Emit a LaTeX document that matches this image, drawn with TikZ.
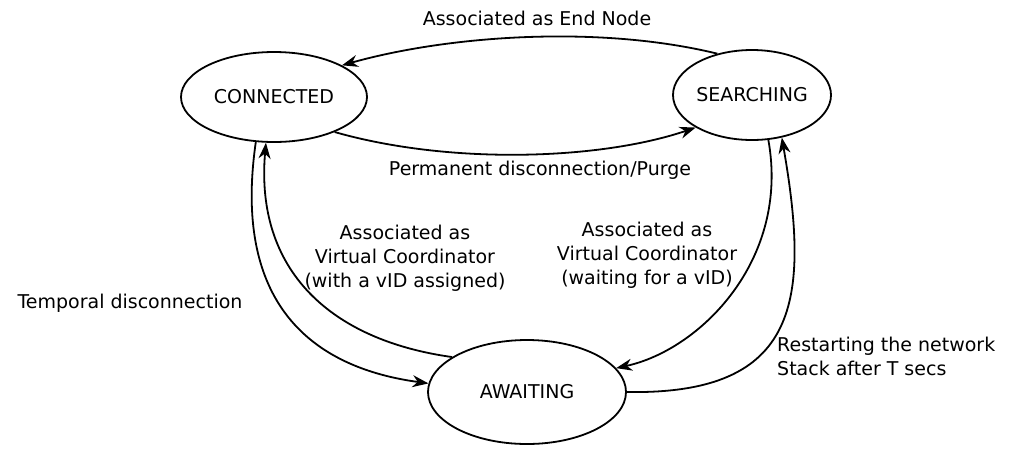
\documentclass[tikz,border=0pt]{standalone}
\usepackage{fontspec}
\setmainfont{DejaVu Sans}
\usetikzlibrary{arrows.meta,shapes.geometric}
\begin{document}
\begin{tikzpicture}[x=1pt,y=-1pt,
  state/.style={draw,ellipse,inner sep=0pt,line width=1.8pt,font=\fontsize{19}{24}\selectfont},
  lbl/.style={font=\fontsize{19}{24}\selectfont,align=center},
  tr/.style={-{Stealth[length=16pt,width=12pt]},line width=1.8pt}]
\useasboundingbox (0,0) rectangle (1024,459);
\node[state,minimum width=186,minimum height=90] (C) at (274,97) {CONNECTED};
\node[state,minimum width=158,minimum height=90] (S) at (752,95) {SEARCHING};
\node[state,minimum width=198,minimum height=104] (A) at (527,392) {AWAITING};
\draw[tr] (S.130) .. controls (600,25) and (450,35) .. (C.25);
\draw[tr] (C.-30) .. controls (450,165) and (600,160) .. (S.-150);
\draw[tr] (C.-112) .. controls (230,320) and (330,370) .. (A.175);
\draw[tr] (A.155) .. controls (330,340) and (255,270) .. (C.-100);
\draw[tr] (S.-70) .. controls (790,260) and (700,350) .. (A.15);
\draw[tr] (A.0) .. controls (800,395) and (810,300) .. (S.-55);
\node[lbl] (l1) at (537,18) {Associated as End Node};
\node[lbl] (l2) at (540,170) {Permanent disconnection/Purge};
\node[lbl] (l3) at (130,303) {Temporal disconnection};
\node[lbl] (l4) at (405,258) {Associated as\\Virtual Coordinator\\(with a vID assigned)};
\node[lbl] (l5) at (647,255) {Associated as\\Virtual Coordinator\\(waiting for a vID)};
\node[lbl,align=left,anchor=west,inner sep=0pt] (l6) at (777,356) {Restarting the network\\Stack after T secs};
\end{tikzpicture}
\end{document}
